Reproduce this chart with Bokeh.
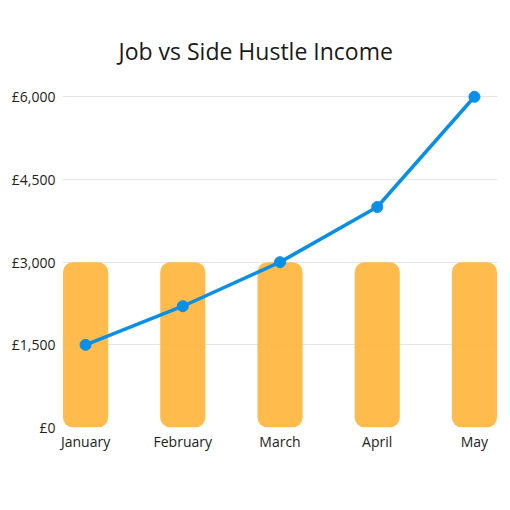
from bokeh.plotting import figure
from bokeh.models import FixedTicker, ColumnDataSource
from bokeh.embed import file_html
from bokeh.resources import INLINE

months = ["January", "February", "March", "April", "May"]
job_income = [3000, 3000, 3000, 3000, 3000]
side_hustle = [1500, 2200, 3000, 4000, 6000]
y_ticks = [0, 1500, 3000, 4500, 6000]
y_tick_labels = ["£0", "£1,500", "£3,000", "£4,500", "£6,000"]

xs = list(range(len(months)))
src = ColumnDataSource(dict(x=xs, job=job_income, side=side_hustle))

p = figure(width=502, height=502, x_range=(-0.237, 4.237), y_range=(0, 6150),
           output_backend="svg", toolbar_location=None,
           title="Job vs Side Hustle Income",
           min_border_left=62, min_border_right=5, min_border_top=88, min_border_bottom=75)

# centre the title on the whole canvas, not on the frame
p.title.align = "left"
p.title.offset = 56
p.title.text_font = "Open Sans"
p.title.text_font_size = "23px"
p.title.text_font_style = "normal"
p.title.text_color = "#1a1a1a"
p.title.standoff = 43

p.outline_line_color = None
p.xgrid.grid_line_color = None
p.ygrid.grid_line_color = "#e6e6e6"
p.ygrid.ticker = FixedTicker(ticks=y_ticks)

p.vbar(x="x", top="job", bottom=0, width=0.464, source=src,
       fill_color="#ffb53c", fill_alpha=0.92, line_color=None, border_radius=10)
p.line(x="x", y="side", source=src, line_color="#0a8fe6", line_width=3.5)
p.scatter(x="x", y="side", source=src, size=11, fill_color="#0a8fe6", line_color="#0a8fe6")

p.yaxis.ticker = FixedTicker(ticks=y_ticks)
p.yaxis.major_label_overrides = dict(zip(y_ticks, y_tick_labels))
p.xaxis.ticker = FixedTicker(ticks=xs)
p.xaxis.major_label_overrides = dict(zip(xs, months))

for ax in (p.xaxis, p.yaxis):
    ax.axis_line_color = None
    ax.major_tick_line_color = None
    ax.minor_tick_line_color = None
    ax.major_tick_out = 0
    ax.major_tick_in = 0
    ax.major_label_text_font = "Open Sans"
    ax.major_label_text_font_size = "14px"
    ax.major_label_text_color = "#222222"
p.yaxis.major_label_standoff = 7
p.xaxis.major_label_standoff = 4

open("out.html", "w").write(file_html(p, INLINE))
